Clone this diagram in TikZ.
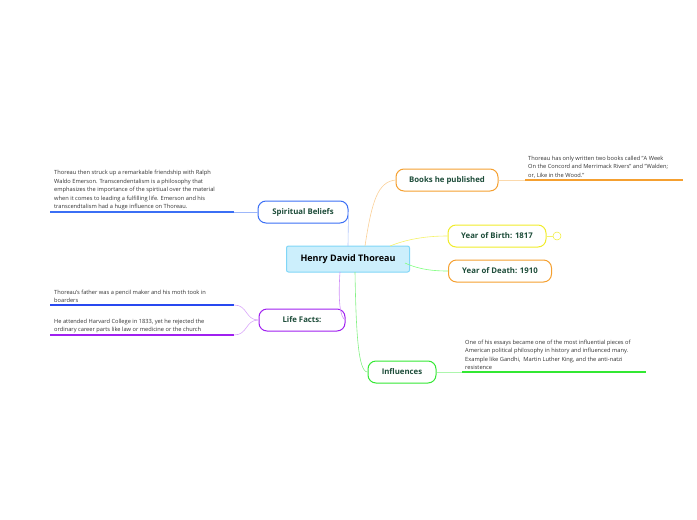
\documentclass[tikz,border=0pt]{standalone}
\usepackage{fontspec}
\setmainfont{Open Sans}
\begin{document}
\begin{tikzpicture}[x=1pt,y=-1pt,
 topic/.style={draw,line width=1pt,rounded corners=8pt,fill=white,minimum height=22pt,font=\fontsize{7.8}{9}\selectfont\bfseries,text=txt},
 note/.style={anchor=south west,align=left,inner sep=1pt,font=\fontsize{5.7}{8.4}\selectfont,text=black!80},
 br/.style={line width=0.6pt}]
\definecolor{txt}{HTML}{1E4D3A}
\definecolor{cblue}{HTML}{3B6FF5}
\definecolor{cblue2}{HTML}{2848F0}
\definecolor{cpur}{HTML}{A020F0}
\definecolor{corg}{HTML}{F5A030}
\definecolor{cyel}{HTML}{F0EC2A}
\definecolor{cgrn}{HTML}{33E833}
\useasboundingbox (0,0) rectangle (697,520);
\node[draw=cyan!50,fill=cyan!20,line width=1pt,rounded corners=2pt,minimum width=123pt,minimum height=26pt,font=\fontsize{9}{11}\selectfont\bfseries] (c) at (348,259) {Henry David Thoreau};
\node[topic,draw=cblue,minimum width=90pt] (sb) at (303,212) {Spiritual Beliefs};
\node[topic,draw=cpur,minimum width=86pt] (lf) at (302,320) {Life Facts:};
\node[topic,draw=corg,minimum width=102pt] (bk) at (447,180) {Books he published};
\node[topic,draw=cyel,minimum width=98pt] (yb) at (497,236) {Year of Birth: 1817};
\node[draw=cyel,circle,minimum size=8pt,inner sep=0pt,line width=0.5pt] (yc) at (557,236) {};
\node[topic,draw=corg,minimum width=103pt] (yd) at (500,271) {Year of Death: 1910};
\node[topic,draw=cgrn,minimum width=68pt] (in) at (402,372) {Influences};
% connectors
\draw[br,cblue!40] (348,246) -- (sb.east);
\draw[br,cpur!50] (340,272) .. controls (338,300) and (340,318) .. (lf.east);
\draw[br,corg!50] (365,246) .. controls (372,200) and (378,182) .. (bk.west);
\draw[br,cyel!70] (390,246) .. controls (410,238) and (430,236) .. (yb.west);
\draw[br,cyel!70] (yb.east) -- (yc.west);
\draw[br,green!50] (405,263) .. controls (420,270) and (435,271) .. (yd.west);
\draw[br,cgrn!60] (355,272) .. controls (356,330) and (358,372) .. (in.west);
% notes
\coordinate (n1a) at (50,212); \coordinate (n1b) at (234,212);
\draw[cblue,line width=1.2pt] (n1a) -- (n1b);
\draw[br,cblue!50] (n1b) -- (sb.west);
\node[note] (t1) at (53,211) {Thoreau then struck up a remarkable friendship with Ralph\\Waldo Emerson. Transcendentalism is a philosophy that\\emphasizes the importance of the spirtiual over the material\\when it comes to leading a fulfilling life. Emerson and his\\transcendtalism had a huge influence on Thoreau.};
\coordinate (n2a) at (50,305); \coordinate (n2b) at (234,305);
\draw[cblue2,line width=1.2pt] (n2a) -- (n2b);
\node[note] (t2) at (53,304) {Thoreau's father was a pencil maker and his moth took in\\boarders};
\coordinate (n3a) at (50,335); \coordinate (n3b) at (234,335);
\draw[cpur,line width=1.2pt] (n3a) -- (n3b);
\node[note] (t3) at (53,334) {He attended Harvard College in 1833, yet he rejected the\\ordinary career parts like law or medicine or the church};
\draw[br,cpur!40] (n2b) .. controls (248,305) and (245,320) .. (lf.west);
\draw[br,cpur!40] (n3b) .. controls (248,335) and (245,320) .. (lf.west);
\coordinate (n4a) at (525,180); \coordinate (n4b) at (683,180);
\draw[corg,line width=1.2pt] (n4a) -- (n4b);
\draw[br,corg!40] (bk.east) -- (n4a);
\node[note] (t4) at (527,179) {Thoreau has only written two books called "A Week\\On the Concord and Merrimack Rivers" and "Walden;\\or, Like in the Wood."};
\coordinate (n5a) at (462,372); \coordinate (n5b) at (646,372);
\draw[cgrn,line width=1.2pt] (n5a) -- (n5b);
\draw[br,cgrn!40] (in.east) -- (n5a);
\node[note] (t5) at (464,371) {One of his essays became one of the most influential pieces of\\American political philosophy in history and influenced many.\\Example like Gandhi,\ \ Martin Luther King, and the anti-natzi\\resistence};
\end{tikzpicture}
\end{document}
